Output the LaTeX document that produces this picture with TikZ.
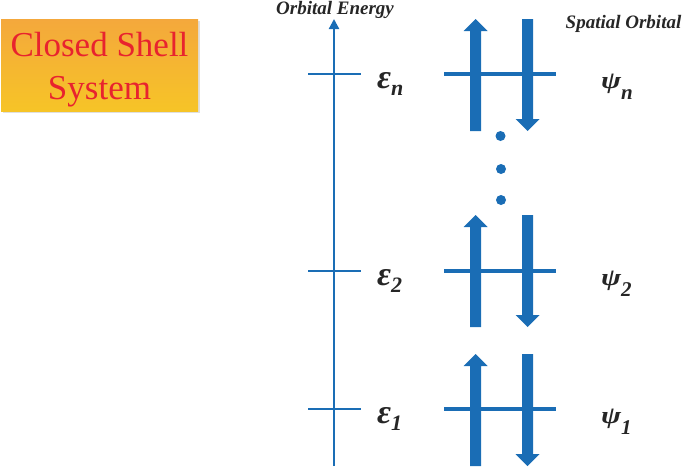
\documentclass[tikz,border=0pt]{standalone}
\usepackage{fontspec}
\setmainfont{Liberation Serif}
\usetikzlibrary{arrows.meta,shadows}
\definecolor{eblue}{HTML}{1A6DB5}
\definecolor{boxtop}{HTML}{F4A83C}
\definecolor{boxbot}{HTML}{F6C427}
\definecolor{boxred}{HTML}{E8232E}
\newcommand{\esub}[1]{\raisebox{-7pt}{\fontsize{22}{22}\selectfont #1}}
\newcommand{\psisym}[1]{\scalebox{1}[0.8]{ψ}\raisebox{-11pt}{\fontsize{21}{21}\selectfont #1}}
\tikzset{
  titlebox/.style={draw=none, top color=boxtop, bottom color=boxbot,
    minimum width=197pt, minimum height=92pt, inner sep=0pt,
    drop shadow={opacity=0.25, shadow xshift=2pt, shadow yshift=-2pt}},
  titletext/.style={align=center, text=boxred, inner sep=0pt,
    font=\fontsize{35}{43}\selectfont},
  headlab/.style={font=\fontsize{19}{19}\selectfont\bfseries\itshape, text=black!85, inner sep=0pt, anchor=base},
  elab/.style={font=\fontsize{34}{34}\selectfont\bfseries\itshape, text=black!85, inner sep=0pt, anchor=base west},
  plab/.style={font=\fontsize{30}{30}\selectfont\bfseries\itshape, text=black!85, inner sep=0pt, anchor=base west},
  axisline/.style={draw=eblue, line width=2.2pt},
  tick/.style={draw=eblue, line width=2.6pt},
  level/.style={draw=eblue, line width=4.5pt},
  dotmark/.style={circle, fill=eblue, inner sep=0pt, minimum size=10pt},
  uparr/.pic={\fill[eblue] (0,0) -- (12,12) -- (5.5,12) -- (5.5,112) -- (-5.5,112) -- (-5.5,12) -- (-12,12) -- cycle;},
  downarr/.pic={\fill[eblue] (0,112) -- (12,100) -- (5.5,100) -- (5.5,0) -- (-5.5,0) -- (-5.5,100) -- (-12,100) -- cycle;}
}
\begin{document}
\begin{tikzpicture}[x=1pt,y=-1pt]
\useasboundingbox (0,0) rectangle (685,466);
% title box
\node[titlebox] (title) at (99.5,65) {};
\node[titletext] (titletxt) at (99.5,70) {Closed Shell\\System};
% headings
\node[headlab] (oe) at (335,14) {Orbital Energy};
\node[headlab] (so) at (623.5,28) {Spatial Orbital};
% energy axis
\coordinate (axbot) at (334,466);
\coordinate (axtop) at (334,19);
\draw[axisline, -{Triangle[width=10pt,length=10pt]}] (axbot) -- (axtop);
% ticks and levels
\foreach \y/\n in {74/3,271/2,409/1}{
  \coordinate (tl\n) at (308,\y);
  \coordinate (tr\n) at (361,\y);
  \draw[tick] (tl\n) -- (tr\n);
  \coordinate (ll\n) at (444,\y);
  \coordinate (lr\n) at (556,\y);
  \draw[level] (ll\n) -- (lr\n);
}
% electron arrows
\pic at (475.5,19) {uparr};
\pic at (527.5,19) {downarr};
\pic at (475.5,215) {uparr};
\pic at (527.5,215) {downarr};
\pic at (475.5,354) {uparr};
\pic at (527.5,354) {downarr};
% dots
\node[dotmark] (d1) at (500.5,136) {};
\node[dotmark] (d2) at (501,169) {};
\node[dotmark] (d3) at (501,200) {};
% labels
\node[elab] (en) at (377,88) {ε\esub{n}};
\node[elab] (e2) at (377,285) {ε\esub{2}};
\node[elab] (e1) at (377,423) {ε\esub{1}};
\node[plab] (pn) at (601,88) {\psisym{n}};
\node[plab] (p2) at (601,285) {\psisym{2}};
\node[plab] (p1) at (601,423) {\psisym{1}};
\end{tikzpicture}
\end{document}
